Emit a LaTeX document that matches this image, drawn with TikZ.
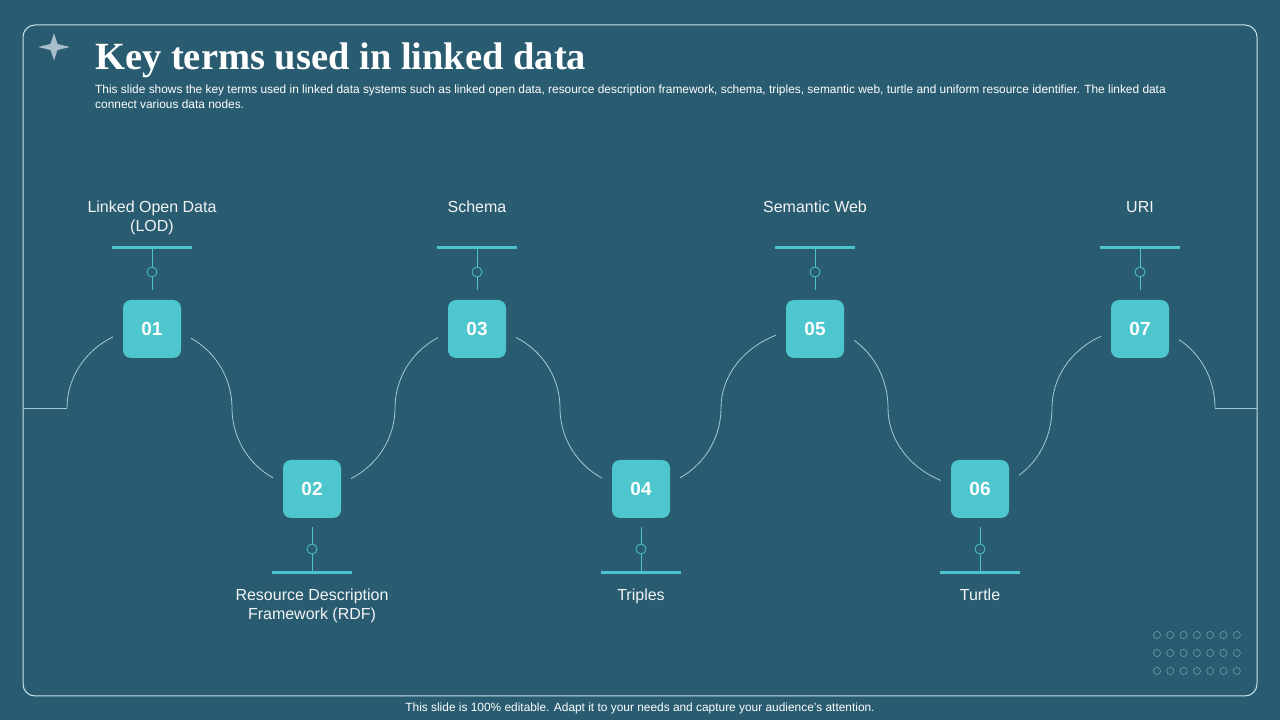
\documentclass[tikz,border=0pt]{standalone}
\usepackage{fontspec}
\setmainfont{Liberation Sans}
\newfontfamily\titlefont{Liberation Serif}
\definecolor{bg}{HTML}{295C70}
\definecolor{tealbox}{HTML}{4DC6CE}
\definecolor{framec}{HTML}{C6E4EC}
\definecolor{curvec}{HTML}{A3CAD6}
\definecolor{pinc}{HTML}{4CC3CE}
\definecolor{dotc}{HTML}{6F9BAB}
\definecolor{starc}{HTML}{A9BECA}
\definecolor{labc}{HTML}{F2F4F5}
\tikzset{
  numbox/.style={fill=tealbox, rounded corners=8pt, minimum width=58pt, minimum height=58pt, inner sep=0pt, text=white, font=\fontsize{19}{19}\selectfont\bfseries},
  curve/.style={draw=curvec, line width=0.8pt},
  pinline/.style={draw=pinc, line width=0.8pt},
  pinbar/.style={draw=pinc, line width=3pt},
  pincirc/.style={draw=pinc, fill=bg, line width=0.8pt},
  toplab/.style={anchor=north, inner sep=0pt, align=center, text=labc, font=\fontsize{16}{19}\selectfont},
  botlab/.style={anchor=north, inner sep=0pt, align=center, text=labc, font=\fontsize{16}{19}\selectfont},
  smalltext/.style={inner sep=0pt, text=white, font=\fontsize{11.9}{14}\selectfont}
}
\begin{document}
\begin{tikzpicture}[x=1pt,y=1pt]
\useasboundingbox (0,0) rectangle (1280,720);
\fill[bg] (0,0) rectangle (1280,720);
% frame
\draw[framec, line width=1pt, rounded corners=12pt] (23,24) rectangle (1257,695);
% star
\fill[starc] (54,673) ++(-16,0) -- ++(12.5,3) -- ++(3.5,10.5) -- ++(3.5,-10.5) -- ++(12.5,-3) -- ++(-12.5,-3) -- ++(-3.5,-10.5) -- ++(-3.5,10.5) -- cycle;
% title
\node[anchor=base west, inner sep=0pt, text=white, font=\titlefont\fontsize{38.5}{42}\selectfont\bfseries] (title) at (95,650) {Key terms used in linked data};
\node[smalltext, anchor=base west] (sub1) at (95,626) {This slide shows the key terms used in linked data systems such as linked open data, resource description framework, schema, triples, semantic web, turtle and uniform resource identifier. The linked data};
\node[smalltext, anchor=base west] (sub2) at (95,611) {connect various data nodes.};
% footer
\node[smalltext, anchor=base] (foot) at (640,8) {This slide is 100\% editable. Adapt it to your needs and capture your audience's attention.};
% curves
\draw[curve] (23,312) -- (67,312);
\draw[curve] (1215,312) -- (1257,312);
\draw[curve] (152,312) ++(180:85pt and 80pt) arc[start angle=180, end angle=117.3, x radius=85pt, y radius=80pt];
\draw[curve] (152,312) ++(60.8:80pt and 80pt) arc[start angle=60.8, end angle=0, x radius=80pt, y radius=80pt];
\draw[curve] (312,312) ++(180:80pt and 80pt) arc[start angle=180, end angle=240.8, x radius=80pt, y radius=80pt];
\draw[curve] (312,312) ++(298:83pt and 80pt) arc[start angle=298, end angle=360, x radius=83pt, y radius=80pt];
\draw[curve] (477,312) ++(180:82pt and 80pt) arc[start angle=180, end angle=118.4, x radius=82pt, y radius=80pt];
\draw[curve] (477,312) ++(62:83pt and 80pt) arc[start angle=62, end angle=0, x radius=83pt, y radius=80pt];
\draw[curve] (641,312) ++(180:81pt and 80pt) arc[start angle=180, end angle=241.2, x radius=81pt, y radius=80pt];
\draw[curve] (641,312) ++(299.2:80pt and 80pt) arc[start angle=299.2, end angle=360, x radius=80pt, y radius=80pt];
\draw[curve] (815,312) ++(180:94pt and 80pt) arc[start angle=180, end angle=114.5, x radius=94pt, y radius=80pt];
\draw[curve] (815,312) ++(57.7:73pt and 80pt) arc[start angle=57.7, end angle=0, x radius=73pt, y radius=80pt];
\draw[curve] (980,312) ++(180:92pt and 80pt) arc[start angle=180, end angle=244.9, x radius=92pt, y radius=80pt];
\draw[curve] (980,312) ++(302.8:72pt and 80pt) arc[start angle=302.8, end angle=360, x radius=72pt, y radius=80pt];
\draw[curve] (1140,312) ++(180:88pt and 80pt) arc[start angle=180, end angle=116.3, x radius=88pt, y radius=80pt];
\draw[curve] (1140,312) ++(58.7:75pt and 80pt) arc[start angle=58.7, end angle=0, x radius=75pt, y radius=80pt];
% top pins
\foreach \x in {152,477,815,1140}{
  \draw[pinline] (\x,472) -- (\x,430);
  \draw[pinbar] (\x-40,472) -- (\x+40,472);
  \draw[pincirc] (\x,448) circle (5pt);
}
% bottom pins
\foreach \x in {312,641,980}{
  \draw[pinline] (\x,193) -- (\x,148);
  \draw[pinbar] (\x-40,147) -- (\x+40,147);
  \draw[pincirc] (\x,171) circle (5pt);
}
% numbered boxes
\node[numbox] (n1) at (152,391) {01};
\node[numbox] (n2) at (312,231) {02};
\node[numbox] (n3) at (477,391) {03};
\node[numbox] (n4) at (641,231) {04};
\node[numbox] (n5) at (815,391) {05};
\node[numbox] (n6) at (980,231) {06};
\node[numbox] (n7) at (1140,391) {07};
% labels
\node[toplab] (l1) at (152,519) {Linked Open Data\\(LOD)};
\node[toplab] (l3) at (477,519) {Schema};
\node[toplab] (l5) at (815,519) {Semantic Web};
\node[toplab] (l7) at (1140,519) {URI};
\node[botlab] (l2) at (312,131) {Resource Description\\Framework (RDF)};
\node[botlab] (l4) at (641,131) {Triples};
\node[botlab] (l6) at (980,131) {Turtle};
% dots
\foreach \i in {0,...,6}{
  \foreach \y in {85,67,49}{
    \draw[dotc, line width=0.6pt] (1157+13.3*\i,\y) circle (3.6pt);
  }
}
\end{tikzpicture}
\end{document}
